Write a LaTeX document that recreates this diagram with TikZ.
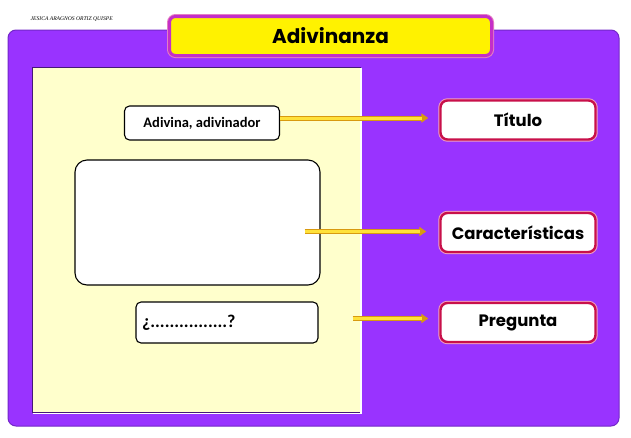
\documentclass[tikz,border=0pt]{standalone}
\usepackage{fontspec}
\setmainfont{Carlito}
\newfontfamily\gothic{Poppins}
\newfontfamily\firma{Liberation Serif}
\usetikzlibrary{positioning,arrows.meta}
\definecolor{morado}{HTML}{9933FF}
\definecolor{moradob}{HTML}{7428C8}
\definecolor{crema}{HTML}{FFFFCC}
\definecolor{amarillo}{HTML}{FFE13A}
\definecolor{ocre}{HTML}{D89A10}
\definecolor{carmin}{HTML}{C8104A}
\definecolor{rosa}{HTML}{F2A0C0}
\definecolor{fucsia}{HTML}{C42EC8}
\begin{document}
\begin{tikzpicture}[x=1pt, y=-1pt, >=Stealth, thick,
    caja/.style={draw=black, fill=white, rounded corners=5pt, line width=1.1pt, inner sep=0pt,
        font=\bfseries\fontsize{14.5}{14.5}\selectfont},
    etiqueta/.style={draw=carmin, fill=white, rounded corners=7pt, line width=2.4pt,
        preaction={draw=rosa, line width=4.4pt},
        minimum width=155pt, minimum height=39pt, inner sep=0pt,
        font=\gothic\bfseries\fontsize{16.5}{16.5}\selectfont},
    flecha/.style={draw=ocre, line width=5pt, -{Triangle[length=7pt,width=9pt]},
        postaction={draw=amarillo, line width=3pt, shorten >=6pt, -}}]

    \useasboundingbox (0,0) rectangle (631,437);
    \fill[white] (0,0) rectangle (631,437);

    % firma
    \node[font=\firma\itshape\fontsize{5.6}{6}\selectfont, anchor=west] (firma) at (27,19)
        {JESICA ARAGNOS ORTIZ QUISPE};

    % fondo morado y panel
    \draw[fill=morado, draw=moradob, line width=1pt, rounded corners=8pt] (8,30) rectangle (619,426);
    \draw[fill=crema, draw=moradob!60!black, line width=1pt] (32,67) rectangle (360,412);
    \draw[white, line width=1.5pt] (33,413.5) -- (361,413.5) -- (361,68);

    % titulo
    \node[draw=fucsia, fill=yellow, rounded corners=6pt, line width=3pt,
        preaction={draw=rosa!70!fucsia, line width=5pt},
        minimum width=322pt, minimum height=39pt,
        font=\gothic\bfseries\fontsize{20}{20}\selectfont] (titulo) at (330.5,36) {Adivinanza};

    % cajas del panel
    \node[caja, minimum width=155pt, minimum height=34pt] (adivina) at (202,123) {Adivina, adivinador};
    \node[caja, rounded corners=12pt, minimum width=245pt, minimum height=125pt] (cuerpo) at (197.5,222.5) {};
    \node[caja, font=\bfseries\fontsize{18}{18}\selectfont, text width=170pt, align=left,
        inner xsep=6pt, minimum height=41pt] (pregunta) at (227,322.5)
        {¿................?};

    % etiquetas
    \node[etiqueta] (tit) at (518,120) {Título};
    \node[etiqueta] (car) at (518,232.5) {Características};
    \node[etiqueta] (pre) at (518,322.5) {Pregunta};

    % flechas
    \draw[flecha] ([yshift=2pt]adivina.east |- tit.west) -- ([xshift=-11pt, yshift=2pt]tit.west);
    \draw[flecha] ([xshift=-16pt, yshift=1pt]cuerpo.east |- car.west) -- ([xshift=-13pt, yshift=1pt]car.west);
    \draw[flecha] ([xshift=34pt, yshift=4pt]pregunta.east) -- ([xshift=-11pt, yshift=4pt]pre.west);

\end{tikzpicture}
\end{document}
